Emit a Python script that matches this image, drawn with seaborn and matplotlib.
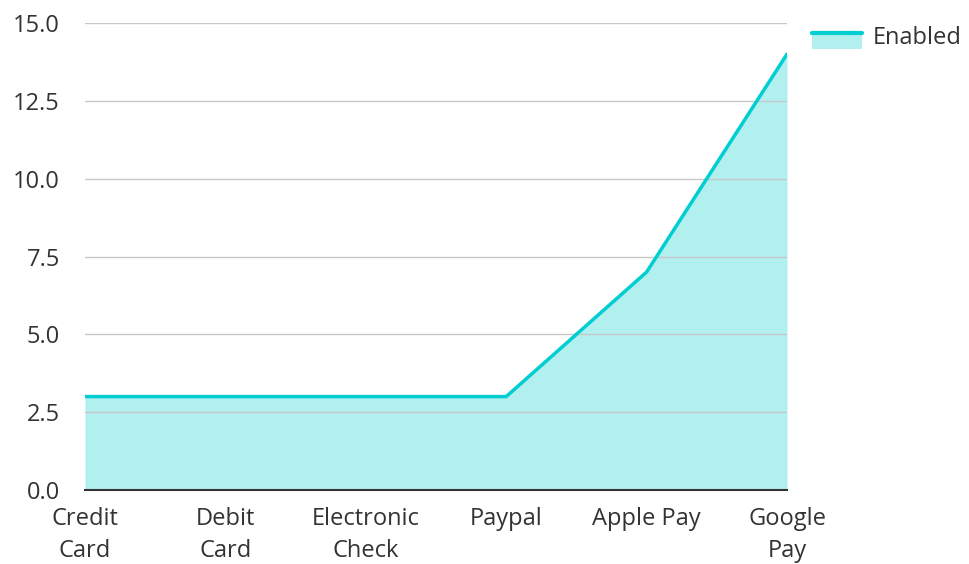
import matplotlib
matplotlib.use("Agg")
import matplotlib.pyplot as plt
import seaborn as sns
import pandas as pd
from matplotlib.patches import Rectangle
from matplotlib.lines import Line2D

# data
methods = ["Credit\nCard", "Debit\nCard", "Electronic\nCheck", "Paypal", "Apple Pay", "Google\nPay"]
enabled = [3, 3, 3, 3, 7, 14]

line_color = "#00CED1"
fill_color = "#B2EFEF"

sns.set_style("white")
plt.rcParams["font.family"] = ["Open Sans", "DejaVu Sans"]


class AreaHandler:
    # fill box with the line along its top edge
    def legend_artist(self, legend, orig_handle, fontsize, handlebox):
        x0, y0 = handlebox.xdescent, handlebox.ydescent
        w, h = handlebox.width, handlebox.height
        rect = Rectangle((x0, y0 - 3), w, h + 2, facecolor=fill_color, edgecolor="none",
                         transform=handlebox.get_transform())
        ln = Line2D([x0, x0 + w], [y0 + h - 1, y0 + h - 1], color=line_color, lw=3,
                    transform=handlebox.get_transform())
        handlebox.add_artist(rect)
        handlebox.add_artist(ln)
        return rect


df = pd.DataFrame({"method": methods, "enabled": enabled})

fig = plt.figure(figsize=(9.69, 5.64), dpi=100)
ax = fig.add_axes([85 / 969, 74 / 564, 702 / 969, 467 / 564])

ax.fill_between(range(len(methods)), df["enabled"], color=fill_color, lw=0, zorder=1)
sns.lineplot(data=df, x="method", y="enabled", sort=False, color=line_color, lw=2.5, ax=ax, zorder=3)

ax.set_xlim(0, len(methods) - 1)
ax.set_ylim(0, 15)
ax.set_yticks([0, 2.5, 5, 7.5, 10, 12.5, 15])
ax.set_yticklabels(["0.0", "2.5", "5.0", "7.5", "10.0", "12.5", "15.0"])
ax.set_xticks(range(len(methods)))
ax.set_xticklabels(methods, linespacing=1.45)
ax.set_xlabel("")
ax.set_ylabel("")

ax.yaxis.grid(True, color="#c8c8c8", lw=1, zorder=2)
ax.set_axisbelow(False)
for s in ["top", "right", "left"]:
    ax.spines[s].set_visible(False)
ax.spines["bottom"].set_color("#333333")
ax.spines["bottom"].set_linewidth(1.5)
ax.spines["bottom"].set_zorder(4)
ax.tick_params(axis="both", length=0, labelsize=17, colors="#333333")
ax.tick_params(axis="x", pad=12)
ax.tick_params(axis="y", pad=18)

leg = ax.legend([object()], ["Enabled"], handler_map={object: AreaHandler()},
                loc="upper left", bbox_to_anchor=(1.006, 1.04), frameon=False,
                fontsize=17, handlelength=2.1, handleheight=0.5, handletextpad=0.45)
for t in leg.get_texts():
    t.set_color("#333333")

fig.savefig("out.png", dpi=100)
